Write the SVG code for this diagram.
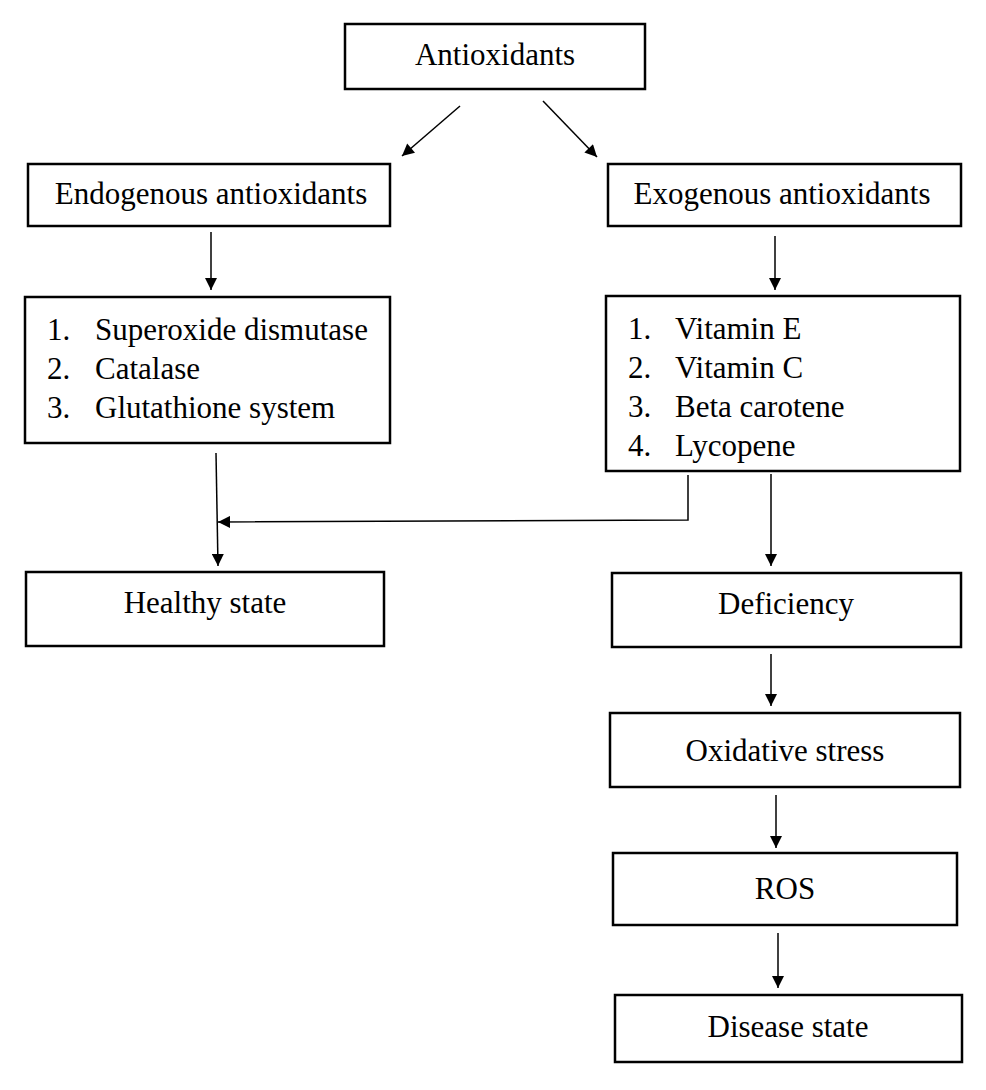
<svg xmlns="http://www.w3.org/2000/svg" width="986" height="1090" viewBox="0 0 986 1090">
<style>
rect{fill:#fff;stroke:#000;stroke-width:2.5}
text{font-family:"Liberation Serif",serif;font-size:31px;fill:#000}
.c{text-anchor:middle}
line,polyline{stroke:#000;stroke-width:1.5;fill:none}
</style>
<defs><marker id="b" viewBox="0 0 10 10" refX="10" refY="5" markerWidth="14" markerHeight="12" markerUnits="userSpaceOnUse" orient="auto"><path d="M0,0 L10,5 L0,10 z" fill="#000"/></marker></defs>
<rect style="stroke:none" fill="#fff" x="0" y="0" width="986" height="1090"/>
<g id="n1"><rect x="345" y="24" width="300" height="65"/><text class="c" x="495" y="65">Antioxidants</text></g>
<g id="n2"><rect x="28" y="164" width="362" height="62"/><text class="c" x="211" y="204">Endogenous antioxidants</text></g>
<g id="n3"><rect x="608" y="164" width="353" height="62"/><text class="c" x="782" y="204">Exogenous antioxidants</text></g>
<g id="n4"><rect x="25" y="297" width="365" height="146"/><text x="47" y="340">1.</text><text x="95" y="340">Superoxide dismutase</text><text x="47" y="379">2.</text><text x="95" y="379">Catalase</text><text x="47" y="418">3.</text><text x="95" y="418">Glutathione system</text></g>
<g id="n5"><rect x="606" y="296" width="354" height="175"/><text x="628" y="339">1.</text><text x="675" y="339">Vitamin E</text><text x="628" y="378">2.</text><text x="675" y="378">Vitamin C</text><text x="628" y="417">3.</text><text x="675" y="417">Beta carotene</text><text x="628" y="456">4.</text><text x="675" y="456">Lycopene</text></g>
<g id="n6"><rect x="26" y="572" width="358" height="74"/><text class="c" x="205" y="613">Healthy state</text></g>
<g id="n7"><rect x="612" y="573" width="349" height="74"/><text class="c" x="786" y="614">Deficiency</text></g>
<g id="n8"><rect x="610" y="713" width="350" height="74"/><text class="c" x="785" y="761">Oxidative stress</text></g>
<g id="n9"><rect x="613" y="853" width="344" height="72"/><text class="c" x="785" y="899">ROS</text></g>
<g id="n10"><rect x="615" y="995" width="347" height="67"/><text class="c" x="788" y="1037">Disease state</text></g>
<g id="connectors">
<line x1="460" y1="106" x2="402" y2="156" marker-end="url(#b)"/>
<line x1="543" y1="101" x2="597" y2="157" marker-end="url(#b)"/>
<line x1="211" y1="232" x2="211" y2="290" marker-end="url(#b)"/>
<line x1="775" y1="236" x2="775" y2="290" marker-end="url(#b)"/>
<line x1="216" y1="453" x2="218" y2="566" marker-end="url(#b)"/>
<polyline points="688,475 688,520 218,522" marker-end="url(#b)"/>
<line x1="771" y1="474" x2="771" y2="566" marker-end="url(#b)"/>
<line x1="771" y1="654" x2="771" y2="706" marker-end="url(#b)"/>
<line x1="776" y1="795" x2="776" y2="848" marker-end="url(#b)"/>
<line x1="778" y1="933" x2="778" y2="988" marker-end="url(#b)"/>
</g>
</svg>
